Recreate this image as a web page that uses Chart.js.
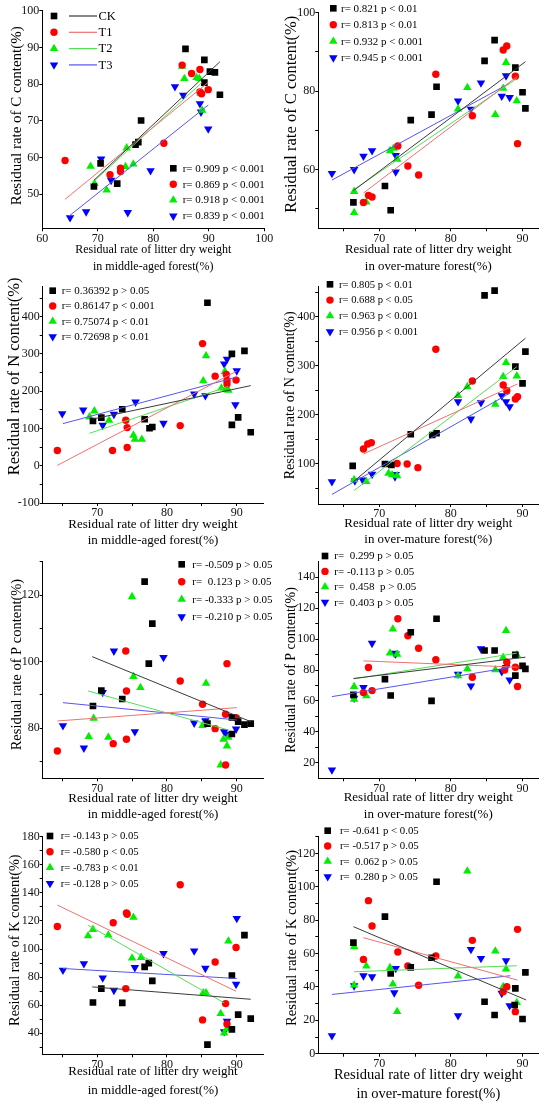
<!DOCTYPE html>
<html>
<head>
<meta charset="utf-8">
<script src="https://cdn.jsdelivr.net/npm/chart.js@4.4.1/dist/chart.umd.min.js"></script>
<style>
html,body{margin:0;padding:0;background:#ffffff;}
#wrap{position:relative;width:550px;height:1109px;overflow:hidden;background:#fff;}
</style>
</head>
<body>
<div id="wrap"></div>
<script>
// ---------------- DATA ----------------
const SERIES = ['CK', 'T1', 'T2', 'T3'];

// C content, middle-aged forest  [litter residual %, C residual %]
const cMidCK = [[69.3,52.1],[70.5,58.4],[73.5,52.9],[76.8,63.5],[77.3,64.2],[77.8,70.1],[85.8,89.6],[89.2,86.6],[89.2,80.4],[90.2,83.4],[91.1,83.2],[92.0,77.1]];
const cMidT1 = [[64.1,59.2],[72.2,55.3],[74.1,57.1],[74.1,56.2],[81.9,63.9],[85.2,85.2],[86.9,82.9],[88.4,84.0],[88.4,77.9],[88.7,77.4],[89.9,78.5]];
const cMidT2 = [[68.7,57.6],[69.4,52.9],[71.6,51.1],[75.0,57.5],[75.2,62.6],[76.4,58.2],[85.2,84.9],[85.6,81.5],[87.8,81.8],[88.3,81.5],[88.5,77.5],[88.8,72.9]];
const cMidT3 = [[65.0,43.6],[67.9,45.2],[70.6,59.6],[72.4,53.8],[75.4,45.0],[79.5,56.4],[83.9,79.3],[85.4,77.0],[88.4,74.7],[88.6,72.4],[89.9,67.8]];
const fitCMid = [[69.3,53.8,92.0,86.1],[64.1,48.6,89.9,80.5],[68.7,52.7,88.8,80.5],[64.8,44.0,89.9,74.3]];
const rCMid = ['r= 0.909 p < 0.001','r= 0.869 p < 0.001','r= 0.918 p < 0.001','r= 0.839 p < 0.001'];

// C content, over-mature forest
const cOverCK = [[66.4,51.6],[70.8,55.8],[71.6,49.6],[74.4,72.6],[77.3,74.0],[78.0,81.1],[84.7,87.7],[86.1,93.0],[89.0,86.0],[90.0,79.7],[90.4,75.6]];
const cOverT1 = [[67.8,51.6],[68.5,53.4],[69.0,53.0],[72.6,66.0],[74.0,60.9],[75.5,58.6],[77.9,84.3],[83.0,73.7],[87.3,90.5],[87.8,91.5],[89.0,83.8],[89.3,66.6]];
const cOverT2 = [[66.5,54.4],[66.5,49.0],[68.2,51.7],[71.5,64.8],[72.0,65.4],[72.5,62.6],[81.0,75.4],[82.3,80.9],[86.2,74.0],[87.3,80.7],[87.7,87.3],[89.2,77.5]];
const cOverT3 = [[63.4,59.0],[66.5,60.0],[67.8,63.4],[69.0,64.8],[72.3,63.6],[72.3,59.4],[81.0,77.5],[82.8,75.4],[84.2,82.1],[87.1,78.7],[87.7,83.9],[88.2,78.4]];
const fitCOver = [[66.4,54.6,90.4,87.5],[67.8,54.0,89.3,83.8],[66.5,54.9,89.2,83.2],[63.4,57.3,88.2,82.0]];
const rCOver = ['r= 0.821 p < 0.01','r= 0.813 p < 0.01','r= 0.932 p < 0.001','r= 0.945 p < 0.001'];

// N content, middle-aged forest
const nMidCK = [[69.4,120],[70.6,129],[73.6,151.5],[76.8,124.7],[77.5,100.5],[77.9,104],[85.8,437.4],[89.3,300.2],[89.3,109.5],[90.2,130],[91.1,308.2],[92.0,90]];
const nMidT1 = [[64.3,41],[72.2,41],[74.1,122],[74.3,102.4],[74.3,48.8],[81.9,107.8],[85.1,327.8],[86.9,240.5],[88.5,245],[88.6,229],[88.6,219.2],[89.9,229.8]];
const nMidT2 = [[68.9,130.8],[69.6,147],[71.7,122],[75.2,81.8],[75.4,71],[76.4,71],[85.2,228],[85.6,294.9],[87.8,208.4],[88.3,253],[88.5,205.8],[88.8,202.2]];
const nMidT3 = [[65.0,140],[68.0,149.6],[70.8,108.6],[72.4,138],[75.5,171],[79.5,114],[83.9,192.4],[85.5,188],[88.2,273.5],[88.6,286],[90.0,254.8],[89.8,163.9]];
const fitNMid = [[69.3,125,92.0,215],[64.3,1,90.0,254],[68.9,87,88.8,213],[65.1,113,90.0,238]];
const rNMid = ['r= 0.36392 p > 0.05','r= 0.86147 p < 0.001','r= 0.75074 p < 0.01','r= 0.72698 p < 0.01'];

// N content, over-mature forest
const nOverCK = [[66.3,96],[70.8,100],[71.7,98],[74.4,160.5],[77.4,159],[78.0,162.5],[84.7,443.4],[86.1,453],[89.0,298.2],[90.0,264.2],[90.4,328.7]];
const nOverT1 = [[67.8,130.5],[68.4,140.7],[68.9,143.4],[72.5,101],[73.9,100],[75.4,92.5],[77.9,333.5],[83.0,269],[87.3,260.8],[87.8,249.3],[89.0,232.3],[89.3,237]];
const nOverT2 = [[66.5,68],[68.2,64],[71.3,81],[71.8,78],[72.5,76],[81.0,239.1],[82.3,257.4],[86.2,221.4],[87.3,277.8],[87.7,306.3],[89.2,279.2]];
const nOverT3 = [[63.4,64],[66.6,65.4],[67.7,67.4],[69.0,79],[72.2,74],[72.3,78.9],[81.0,226.9],[82.8,191.6],[84.2,224.8],[87.1,239.1],[87.7,226.9],[88.2,216.7]];
const fitNOver = [[66.4,64,90.4,356],[67.8,120.4,89.3,262.9],[66.5,46,89.2,298],[63.4,38,88.2,244]];
const rNOver = ['r= 0.805 p < 0.01','r= 0.688 p < 0.05','r= 0.963 p < 0.001','r= 0.956 p < 0.001'];

// P content, middle-aged forest
const pMidCK = [[69.4,86.7],[70.6,91.3],[73.6,88.8],[76.8,124.0],[77.4,99.4],[77.9,111.4],[85.8,81.4],[89.3,83.3],[89.3,78.3],[90.2,82.0],[91.1,81.1],[92.0,81.4]];
const pMidT1 = [[64.3,73.2],[72.3,75.4],[74.1,103.2],[74.2,91.2],[74.2,76.7],[81.9,94.2],[85.1,87.2],[86.9,79.9],[88.4,84.2],[88.6,99.4],[88.4,69.0],[89.9,83.2]];
const pMidT2 = [[68.8,77.5],[69.5,83.0],[71.6,77.3],[75.0,119.5],[75.2,95.5],[76.2,92.2],[85.1,80.8],[85.6,93.5],[87.7,69.0],[88.1,76.7],[88.6,74.7],[88.8,77.3]];
const pMidT3 = [[65.1,80.8],[68.1,74.1],[70.8,90.8],[72.4,103.2],[75.4,79.0],[79.5,101.3],[83.9,81.6],[85.5,82.3],[88.2,79.0],[88.6,78.2],[89.9,79.8]];
const fitPMid = [[69.3,101.5,92.0,82.0],[64.3,82.2,90.0,86.2],[68.7,91.2,88.8,79.5],[65.1,87.7,90.0,82.5]];
const rPMid = ['r= -0.509 p > 0.05','r=  0.123 p > 0.05','r= -0.333 p > 0.05','r= -0.210 p > 0.05'];

// P content, over-mature forest
const pOverCK = [[66.4,63.9],[70.8,74.1],[71.6,63.5],[74.4,104.4],[77.3,60.0],[78.0,113.1],[84.7,92.6],[86.1,92.6],[89.0,89.8],[89.0,76.4],[90.0,82.7],[90.4,80.7]];
const pOverT1 = [[67.8,65.4],[68.5,81.6],[69.0,66.7],[72.6,113.1],[74.0,102.1],[75.5,94.1],[77.9,86.6],[83.0,75.3],[87.5,80.0],[87.8,85.0],[89.0,81.8],[89.3,69.3]];
const pOverT2 = [[66.5,69.3],[66.5,61.1],[68.2,63.3],[71.5,90.9],[71.9,106.4],[72.5,90.2],[81.0,76.2],[82.3,80.7],[86.2,80.1],[87.3,88.1],[87.7,105.5],[89.2,89.8]];
const pOverT3 = [[63.4,15.4],[66.5,61.8],[67.8,68.7],[69.0,97.3],[72.1,90.9],[72.3,90.4],[81.0,77.3],[82.8,69.7],[84.2,93.7],[87.1,79.0],[87.7,81.6],[88.2,73.6]];
const fitPOver = [[66.4,74.5,90.4,88.3],[67.8,85.9,89.3,81.8],[66.5,74.3,89.2,90.9],[63.4,62.8,88.2,81.6]];
const rPOver = ['r=  0.299 p > 0.05','r= -0.113 p > 0.05','r=  0.458  p > 0.05','r=  0.403 p > 0.05'];

// K content, middle-aged forest
const kMidCK = [[69.4,61.9],[70.6,71.8],[73.6,61.6],[76.8,87.3],[77.4,89.9],[77.9,77.3],[85.8,31.9],[89.3,81.1],[89.3,42.8],[90.2,53.3],[91.1,109.9],[92.0,50.4]];
const kMidT1 = [[64.3,116.0],[72.3,118.7],[74.1,71.8],[74.2,125.7],[74.3,124.8],[81.9,145.8],[85.1,49.5],[86.9,90.8],[88.4,61.1],[88.6,46.6],[89.9,101.1]];
const kMidT2 = [[68.7,109.4],[69.4,113.9],[71.6,109.9],[75.0,93.5],[75.2,122.5],[76.3,94.0],[85.2,68.8],[85.6,68.8],[87.7,54.0],[88.2,40.2],[88.6,43.3],[88.8,105.6]];
const kMidT3 = [[65.1,84.9],[68.1,89.6],[70.8,79.4],[72.4,70.6],[75.4,86.8],[79.5,96.8],[83.9,98.7],[85.5,86.3],[88.2,41.1],[88.6,48.5],[90.0,121.8],[89.9,74.9]];
const fitKMid = [[69.3,73.0,92.0,64.2],[64.3,131.3,89.9,69.9],[68.7,117.0,88.2,61.6],[65.1,86.1,90.0,79.0]];
const rKMid = ['r= -0.143 p > 0.05','r= -0.580 p < 0.05','r= -0.783 p < 0.01','r= -0.128 p > 0.05'];

// K content, over-mature forest
const kOverCK = [[66.4,66.5],[70.8,82.1],[71.6,48.1],[74.4,51.7],[77.3,57.5],[78.0,103.0],[84.7,31.1],[86.1,23.2],[89.0,39.1],[88.9,29.2],[90.0,20.8],[90.4,48.7]];
const kOverT1 = [[67.8,56.5],[68.5,91.7],[69.0,76.5],[72.6,60.9],[74.0,52.5],[75.5,41.0],[77.9,58.5],[83.0,67.9],[87.3,37.1],[87.8,40.1],[89.0,25.2],[89.3,74.5]];
const kOverT2 = [[66.5,64.1],[66.5,41.1],[68.2,52.5],[71.5,51.5],[71.9,41.7],[72.5,25.2],[81.0,46.5],[82.3,109.4],[86.2,61.5],[87.3,40.1],[87.7,50.7],[89.2,30.6]];
const kOverT3 = [[63.4,10.8],[66.5,40.7],[67.8,46.7],[69.0,46.1],[72.1,36.5],[72.3,51.1],[81.0,22.8],[82.8,62.5],[84.2,57.1],[87.1,36.2],[87.7,55.7],[88.2,28.8]];
const fitKOver = [[66.4,76.1,90.5,32.2],[67.8,69.5,89.3,44.1],[66.5,49.1,89.2,52.7],[63.4,35.5,88.3,46.7]];
const rKOver = ['r= -0.641 p < 0.05','r= -0.517 p > 0.05','r=  0.062 p > 0.05','r=  0.280 p > 0.05'];

// axis ticks (all tick marks / labelled ticks)
const xTicksC = [60,70,80,90,100];
const xTicksMid = [65,70,75,80,85,90];
const xTicksOver = [65,70,75,80,85,90];
const xLabels = [60,70,80,90,100];
const yTicksCMid = [50,60,70,80,90,100];
const yTicksCOver = [50,60,70,80,90,100];
const yLabCOver = [60,80,100];
const yTicksNMid = [-100,-50,0,50,100,150,200,250,300,350,400,450];
const yLabNMid = [-100,0,100,200,300,400];
const yTicksNOver = [50,100,150,200,250,300,350,400,450];
const yLabNOver = [100,200,300,400];
const yTicksPMid = [70,80,90,100,110,120,130];
const yLabPMid = [80,100,120];
const yTicksPOver = [20,30,40,50,60,70,80,90,100,110,120,130,140];
const yLabPOver = [20,40,60,80,100,120,140];
const yTicksKMid = [30,40,50,60,70,80,90,100,110,120,130,140,150,160,170,180];
const yLabKMid = [40,60,80,100,120,140,160,180];
const yTicksKOver = [0,10,20,30,40,50,60,70,80,90,100,110,120,130];
const yLabKOver = [0,20,40,60,80,100,120];

const xTitleMid = ['Residual rate of litter dry weight', 'in middle-aged forest(%)'];
const xTitleOver = ['Residual rate of litter dry weight', 'in over-mature forest(%)'];
const yTitleC = 'Residual rate of C content(%)';
const yTitleN = 'Residual rate of N content(%)';
const yTitleP = 'Residual rate of P content(%)';
const yTitleK = 'Residual rate of K content(%)';

// ---------------- STYLE ----------------
const FONT = "'Liberation Serif','Times New Roman',serif";
const MARK_COLOR = ['#000000', '#ff0000', '#00ee00', '#0000ff'];
const LINE_COLOR = ['#3a3a3a', '#f07070', '#55dd55', '#5555ee'];
const MARK_STYLE = ['rect', 'circle', 'triangle', 'triangle'];
const MARK_ROT = [0, 0, 0, 180];
const MARK_R = [4.7, 3.7, 4.9, 4.9];

function drawMarker(ctx, i, x, y) {
  const r = MARK_R[i];
  ctx.save();
  ctx.fillStyle = MARK_COLOR[i];
  ctx.beginPath();
  if (MARK_STYLE[i] === 'rect') {
    const s = r * Math.SQRT1_2;
    ctx.rect(x - s, y - s, 2 * s, 2 * s);
  } else if (MARK_STYLE[i] === 'circle') {
    ctx.arc(x, y, r, 0, Math.PI * 2);
  } else {
    let a = MARK_ROT[i] * Math.PI / 180;
    ctx.moveTo(x + Math.sin(a) * r, y - Math.cos(a) * r);
    a += 2 * Math.PI / 3;
    ctx.lineTo(x + Math.sin(a) * r, y - Math.cos(a) * r);
    a += 2 * Math.PI / 3;
    ctx.lineTo(x + Math.sin(a) * r, y - Math.cos(a) * r);
    ctx.closePath();
  }
  ctx.fill();
  ctx.restore();
}

// legend groups are given in page coordinates; ox/oy = canvas offset
const legendPlugin = {
  id: 'rLegend',
  afterDatasetsDraw(chart, args, opts) {
    const ctx = chart.ctx;
    const ox = opts.ox || 0, oy = opts.oy || 0;
    (opts.groups || []).forEach(g => {
      g.texts.forEach((t, i) => {
        const y = g.y + i * g.dy - oy;
        if (g.line) {
          ctx.save();
          ctx.strokeStyle = LINE_COLOR[i];
          ctx.lineWidth = 1.2;
          ctx.beginPath();
          ctx.moveTo(g.line[0] - ox, y);
          ctx.lineTo(g.line[1] - ox, y);
          ctx.stroke();
          ctx.restore();
        }
        drawMarker(ctx, i, g.mx - ox, y);
        ctx.save();
        ctx.fillStyle = '#000';
        ctx.font = g.size + 'px ' + FONT;
        ctx.textBaseline = 'middle';
        ctx.textAlign = 'left';
        ctx.fillText(t, g.tx - ox, y + 0.5);
        ctx.restore();
      });
    });
  }
};

// ---------------- PANELS (layout, page coordinates) ----------------
const PANELS = [
  { box:[0,0,275,280], area:[42.3,10.8,264.3,228.3], xr:[60,100], yr:[40.7,100],
    xt:xTicksC, xl:xLabels, yt:yTicksCMid, yl:yTicksCMid,
    yTitle:yTitleC, yFont:15, yCx:16.7, ySp:2, xTitle:xTitleMid, xFont:12, xLines:[250,266.5],
    pts:[cMidCK,cMidT1,cMidT2,cMidT3], fits:fitCMid,
    legend:[{mx:54, tx:98.5, y:16, dy:16.3, size:12.5, texts:SERIES, line:[69,97]},
            {mx:173.3, tx:182.7, y:168.3, dy:15.9, size:11, texts:rCMid}] },
  { box:[275,0,275,280], area:[318.3,12.7,538.3,228.3], xr:[61.5,92.2], yr:[45,100],
    xt:xTicksOver, xl:xLabels, yt:yTicksCOver, yl:yLabCOver,
    yTitle:yTitleC, yFont:16.5, yCx:16.7, ySp:3, xTitle:xTitleOver, xFont:12.8, xLines:[249.5,266.5],
    pts:[cOverCK,cOverT1,cOverT2,cOverT3], fits:fitCOver,
    legend:[{mx:333.3, tx:341, y:8.3, dy:16.5, size:11, texts:rCOver}] },
  { box:[0,266,275,284], area:[42.7,286.9,263.3,503], xr:[62.2,93.8], yr:[-100,480],
    xt:xTicksMid, xl:xLabels, yt:yTicksNMid, yl:yLabNMid,
    yTitle:yTitleN, yFont:16.5, yCx:15, ySp:9, xTitle:xTitleMid, xFont:13, xLines:[525,541],
    pts:[nMidCK,nMidT1,nMidT2,nMidT3], fits:fitNMid,
    legend:[{mx:52.7, tx:61.7, y:290.7, dy:15.3, size:11, texts:rNMid}] },
  { box:[275,266,275,284], area:[318.3,286.7,538.3,504], xr:[61.5,92.2], yr:[18.5,461],
    xt:xTicksOver, xl:xLabels, yt:yTicksNOver, yl:yLabNOver,
    yTitle:yTitleN, yFont:14, yCx:15, ySp:0, xTitle:xTitleOver, xFont:12.9, xLines:[523.3,540],
    pts:[nOverCK,nOverT1,nOverT2,nOverT3], fits:fitNOver,
    legend:[{mx:330, tx:339, y:284.3, dy:15.8, size:10.6, texts:rNOver}] },
  { box:[0,550,275,275], area:[42.7,561.7,263.3,778.3], xr:[62.2,93.8], yr:[65,130],
    xt:xTicksMid, xl:xLabels, yt:yTicksPMid, yl:yLabPMid,
    yTitle:yTitleP, yFont:14.5, yCx:16.7, ySp:3, xTitle:xTitleMid, xFont:13, xLines:[798.3,815],
    pts:[pMidCK,pMidT1,pMidT2,pMidT3], fits:fitPMid,
    legend:[{mx:181.7, tx:192.3, y:564.3, dy:17.5, size:11, texts:rPMid}] },
  { box:[275,550,275,275], area:[318.3,561.7,538.3,778.3], xr:[61.5,92.2], yr:[10,150],
    xt:xTicksOver, xl:xLabels, yt:yTicksPOver, yl:yLabPOver,
    yTitle:yTitleP, yFont:14, yCx:16.7, ySp:0, xTitle:xTitleOver, xFont:13, xLines:[797.5,815],
    pts:[pOverCK,pOverT1,pOverT2,pOverT3], fits:fitPOver,
    legend:[{mx:325, tx:334.3, y:556, dy:15.4, size:11, texts:rPOver}] },
  { box:[0,825,275,284], area:[42.7,836.7,263.3,1054.3], xr:[62.2,93.8], yr:[25,180],
    xt:xTicksMid, xl:xLabels, yt:yTicksKMid, yl:yLabKMid,
    yTitle:yTitleK, yFont:14.3, yCx:15, ySp:3, xTitle:xTitleMid, xFont:13, xLines:[1072,1090.7],
    pts:[kMidCK,kMidT1,kMidT2,kMidT3], fits:fitKMid,
    legend:[{mx:50, tx:60.7, y:836, dy:15.8, size:10.7, texts:rKMid}] },
  { box:[275,825,275,284], area:[318.3,836.7,538.3,1053.7], xr:[61.5,92.2], yr:[0,130],
    xt:xTicksOver, xl:xLabels, yt:yTicksKOver, yl:yLabKOver,
    yTitle:yTitleK, yFont:14.7, yCx:16.7, ySp:4, xTitle:xTitleOver, xFont:14.5, xLines:[1075,1094],
    pts:[kOverCK,kOverT1,kOverT2,kOverT3], fits:fitKOver,
    legend:[{mx:327.7, tx:340, y:830.7, dy:15.3, size:10.8, texts:rKOver}] }
];

const wrap = document.getElementById('wrap');

PANELS.forEach(p => {
  const [bx, by, bw, bh] = p.box;
  const cv = document.createElement('canvas');
  cv.width = bw; cv.height = bh;
  cv.style.cssText = 'position:absolute;left:' + bx + 'px;top:' + by + 'px;width:' + bw + 'px;height:' + bh + 'px;';
  wrap.appendChild(cv);

  const L = p.area[0] - bx, T = p.area[1] - by, R = p.area[2] - bx, B = p.area[3] - by;
  const lh = p.xLines[1] - p.xLines[0];
  const pb = bh - lh / 2 - (p.xLines[1] - by);

  const datasets = [];
  p.fits.forEach((f, i) => {
    datasets.push({
      type: 'line', label: SERIES[i] + ' fit',
      data: [{x: f[0], y: f[1]}, {x: f[2], y: f[3]}],
      borderColor: LINE_COLOR[i], borderWidth: 1, pointRadius: 0, fill: false, order: 0
    });
  });
  p.pts.forEach((arr, i) => {
    datasets.push({
      type: 'scatter', label: SERIES[i],
      data: arr.map(d => ({x: d[0], y: d[1]})),
      pointStyle: MARK_STYLE[i], pointRotation: MARK_ROT[i], pointRadius: MARK_R[i],
      pointBackgroundColor: MARK_COLOR[i], pointBorderWidth: 0, pointBorderColor: MARK_COLOR[i],
      order: 1
    });
  });

  const tickFont = {family: FONT, size: 12};
  new Chart(cv, {
    type: 'scatter',
    data: {datasets},
    plugins: [legendPlugin],
    options: {
      responsive: false, animation: false, events: [],
      layout: {padding: {left: 0, top: T, right: bw - R, bottom: 0}},
      plugins: {legend: {display: false}, tooltip: {enabled: false},
                rLegend: {groups: p.legend, ox: bx, oy: by}},
      scales: {
        x: {
          type: 'linear', position: 'bottom', min: p.xr[0], max: p.xr[1],
          afterFit(s) { s.height = bh - B; },
          afterBuildTicks(s) { s.ticks = p.xt.map(v => ({value: v})); },
          ticks: {autoSkip: false, maxRotation: 0, padding: 0, color: '#111', font: tickFont,
                  callback: v => (p.xl.includes(v) ? String(v) : '')},
          grid: {display: true, drawOnChartArea: false, drawTicks: true, tickLength: 3, tickColor: '#000', lineWidth: 1},
          border: {display: true, color: '#000', width: 1},
          title: {display: true, text: p.xTitle, color: '#000',
                  font: {family: FONT, size: p.xFont, lineHeight: lh / p.xFont},
                  padding: {top: 0, bottom: pb}}
        },
        y: {
          type: 'linear', position: 'left', min: p.yr[0], max: p.yr[1],
          afterFit(s) { s.width = L; },
          afterBuildTicks(s) { s.ticks = p.yt.map(v => ({value: v})); },
          ticks: {autoSkip: false, padding: 0, color: '#111', font: tickFont,
                  callback: v => (p.yl.includes(v) ? String(v) : '')},
          grid: {display: true, drawOnChartArea: false, drawTicks: true, tickLength: 3, tickColor: '#000', lineWidth: 1},
          border: {display: true, color: '#000', width: 1},
          title: {display: true, text: ' '.repeat(p.ySp) + p.yTitle, color: '#000',
                  font: {family: FONT, size: p.yFont, lineHeight: 1},
                  padding: {top: p.yCx - p.yFont / 2, bottom: 0}}
        }
      }
    }
  });
});
</script>
</body>
</html>
